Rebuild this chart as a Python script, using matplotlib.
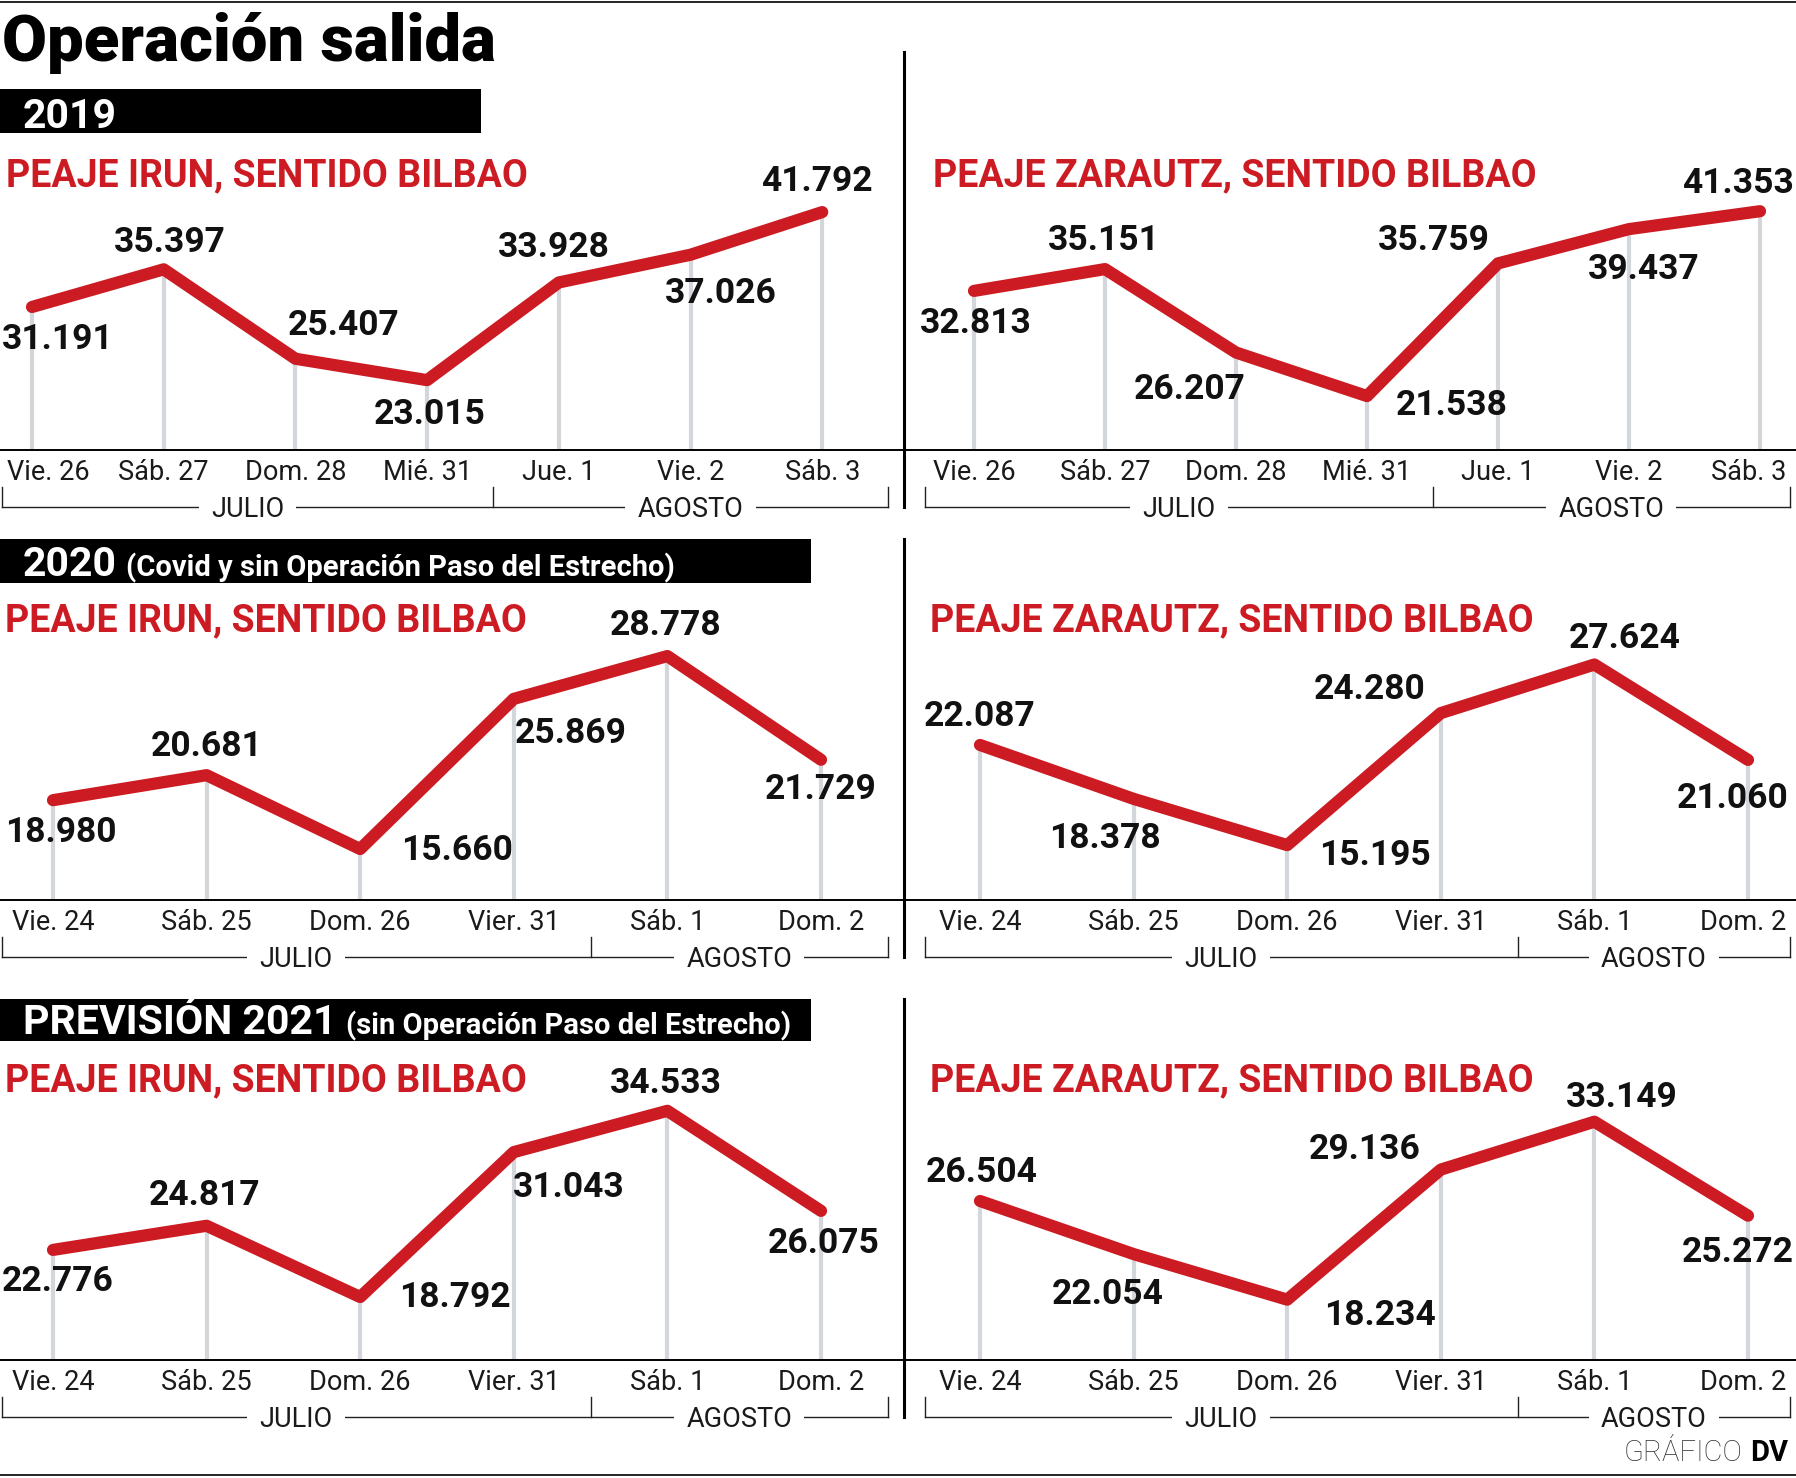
import numpy as np
import matplotlib
matplotlib.use('Agg')
import matplotlib.pyplot as plt
from matplotlib.lines import Line2D
from matplotlib.patches import Rectangle

W, H = 1796, 1478
plt.rcParams['font.family'] = ['Roboto', 'DejaVu Sans']

# datos: vehiculos por dia
dias_2019 = ['Vie. 26', 'Sáb. 27', 'Dom. 28', 'Mié. 31', 'Jue. 1', 'Vie. 2', 'Sáb. 3']
dias_2020 = ['Vie. 24', 'Sáb. 25', 'Dom. 26', 'Vier. 31', 'Sáb. 1', 'Dom. 2']
dias_julio = 4
meses = ['JULIO', 'AGOSTO']

irun_2019 = [31191, 35397, 25407, 23015, 33928, 37026, 41792]
zarautz_2019 = [32813, 35151, 26207, 21538, 35759, 39437, 41353]
irun_2020 = [18980, 20681, 15660, 25869, 28778, 21729]
zarautz_2020 = [22087, 18378, 15195, 24280, 27624, 21060]
irun_2021 = [22776, 24817, 18792, 31043, 34533, 26075]
zarautz_2021 = [26504, 22054, 18234, 29136, 33149, 25272]

titulo_irun = 'PEAJE IRUN, SENTIDO BILBAO'
titulo_zarautz = 'PEAJE ZARAUTZ, SENTIDO BILBAO'

ROJO = '#cc1b22'
GRIS = '#d3d7db'
NEGRO = '#111111'

fig = plt.figure(figsize=(W / 100, H / 100), dpi=100)
renderer = fig.canvas.get_renderer()


def fx(x):
    return x / W


def fy(y):
    return 1 - y / H


def hline(x0, x1, y, lw=1.5, color='black'):
    fig.add_artist(Line2D([fx(x0), fx(x1)], [fy(y), fy(y)], transform=fig.transFigure, color=color, lw=lw))


def vline(x, y0, y1, lw=2.2):
    fig.add_artist(Line2D([fx(x), fx(x)], [fy(y0), fy(y1)], transform=fig.transFigure, color='black', lw=lw))


def draw_panel(vals, dias, col, ybase, p0, step, vmin, scale, offs, titulo, yhead, xhead):
    x0, w = (0, 895) if col == 0 else (905, 891)
    hpx = 300
    ax = fig.add_axes([fx(x0), fy(ybase), w / W, hpx / H])
    ax.set_axis_off()
    ax.set_xlim((x0 - p0) / step, (x0 + w - p0) / step)
    ax.set_ylim(vmin, vmin + hpx / scale)

    def to_y(ypx):
        return vmin + (ybase - ypx) / scale

    def to_x(xpx):
        return (xpx - p0) / step

    xs = np.arange(len(vals))
    ax.vlines(xs, vmin, vals, color=GRIS, lw=3, zorder=1)
    ax.plot(xs, vals, color=ROJO, lw=8.8, solid_capstyle='round', solid_joinstyle='round', zorder=2)
    for x, v, (dx, dy) in zip(xs, vals, offs):
        an = ax.annotate(f'{v:,}'.replace(',', '.'), (x, v), xytext=(dx, -dy - 12.5),
                         textcoords='offset pixels', ha='center', va='baseline',
                         fontsize=25.5, fontweight='bold', color=NEGRO, zorder=3,
                         annotation_clip=False)
        bb = an.get_window_extent(renderer)
        if bb.x0 < 2:
            an.xyann = (dx + 2 - bb.x0, -dy - 12.5)
        elif bb.x1 > W - 2:
            an.xyann = (dx - (bb.x1 - (W - 2)), -dy - 12.5)

    # etiquetas de dias
    for i, d in enumerate(dias):
        t = ax.text(i, to_y(ybase + 30), d, ha='center', va='baseline', fontsize=19.5,
                    color='#1a1a1a', clip_on=False)
        bb = t.get_window_extent(renderer)
        if bb.x0 < 6:
            t.set_x(to_x(7))
            t.set_ha('left')
        elif bb.x1 > 1786:
            t.set_x(to_x(1786))
            t.set_ha('right')

    # llave de meses
    xl = to_x(2 if col == 0 else 925)
    xr = to_x(888 if col == 0 else 1790)
    xdiv = dias_julio - 0.5
    yb = to_y(ybase + 57)
    yt = to_y(ybase + 37)
    ax.plot([xl, xr], [yb, yb], color='#222', lw=1, clip_on=False)
    for xx in (xl, xdiv, xr):
        ax.plot([xx, xx], [yb, yt], color='#222', lw=1, clip_on=False)
    for mes, (a, b) in zip(meses, [(xl, xdiv), (xdiv, xr)]):
        ax.text((a + b) / 2, to_y(ybase + 67), mes, ha='center', va='baseline', fontsize=19.5,
                color='#1a1a1a', clip_on=False,
                bbox=dict(boxstyle='square,pad=0.45', fc='white', ec='none'))

    fig.text(fx(xhead), fy(yhead), titulo, ha='left', va='baseline', fontsize=27,
             fontweight='bold', color=ROJO)


def banda(y0, y1, x1, texto, extra, ybl):
    fig.add_artist(Rectangle((0, fy(y1)), fx(x1), (y1 - y0) / H, transform=fig.transFigure,
                             fc='black', ec='none'))
    t = fig.text(fx(23), fy(ybl), texto, ha='left', va='baseline', fontsize=29.5,
                 fontweight='bold', color='white')
    if extra:
        bb = t.get_window_extent(renderer)
        fig.text((bb.x1 + 9) / W, fy(ybl), extra, ha='left', va='baseline', fontsize=21,
                 fontweight='bold', color='white')


# lineas generales
hline(0, W, 2, lw=1.2)
hline(0, W, 1475, lw=1.2)
fig.text(fx(2), fy(61), 'Operación salida', ha='left', va='baseline', fontsize=47,
         fontweight='black', color='black')

banda(89, 133, 481, '2019', None, 128)
banda(539, 583, 811, '2020', '(Covid y sin Operación Paso del Estrecho)', 576)
banda(999, 1041, 811, 'PREVISIÓN 2021', '(sin Operación Paso del Estrecho)', 1034)

for yb in (450, 900, 1360):
    hline(0, W, yb, lw=1.4)
vline(904, 52, 507)
vline(904, 539, 957)
vline(904, 999, 1417)

draw_panel(irun_2019, dias_2019, 0, 450, 32, 131.7, 15210, 8.95 / 1000,
           [(19, 30), (6, -30), (48, -36), (3, 31), (-5, -38), (30, 36), (-5, -34)],
           titulo_irun, 186, 6)
draw_panel(zarautz_2019, dias_2019, 1, 450, 974, 131.0, 15760, 9.33 / 1000,
           [(2, 30), (-1, -32), (-46, 34), (85, 6), (-64, -26), (15, 37), (-22, -31)],
           titulo_zarautz, 186, 933)
draw_panel(irun_2020, dias_2020, 0, 900, 53, 153.6, 12195, 14.71 / 1000,
           [(8, 29), (0, -32), (97, -2), (57, 32), (-2, -34), (0, 27)],
           titulo_irun, 631, 5)
draw_panel(zarautz_2020, dias_2020, 1, 900, 980, 153.6, 11417, 14.53 / 1000,
           [(0, -31), (-29, 37), (88, 7), (-71, -27), (30, -29), (-15, 36)],
           titulo_zarautz, 631, 930)
draw_panel(irun_2021, dias_2020, 0, 1360, 53, 153.6, 13470, 11.83 / 1000,
           [(5, 29), (-2, -33), (95, -3), (55, 32), (-2, -30), (3, 30)],
           titulo_irun, 1091, 5)
draw_panel(zarautz_2021, dias_2020, 1, 1360, 980, 153.6, 13175, 11.93 / 1000,
           [(2, -31), (-26, 37), (93, 13), (-76, -23), (27, -27), (-3, 34)],
           titulo_zarautz, 1091, 930)

# firma
dv = fig.text(fx(1788), fy(1461), 'DV', ha='right', va='baseline', fontsize=21,
              fontweight='bold', color='black')
bb = dv.get_window_extent(renderer)
fig.text((bb.x0 - 8) / W, fy(1461), 'GRÁFICO', ha='right', va='baseline', fontsize=21,
         fontweight='light', color='#333333')

fig.savefig('out.png', dpi=100)
